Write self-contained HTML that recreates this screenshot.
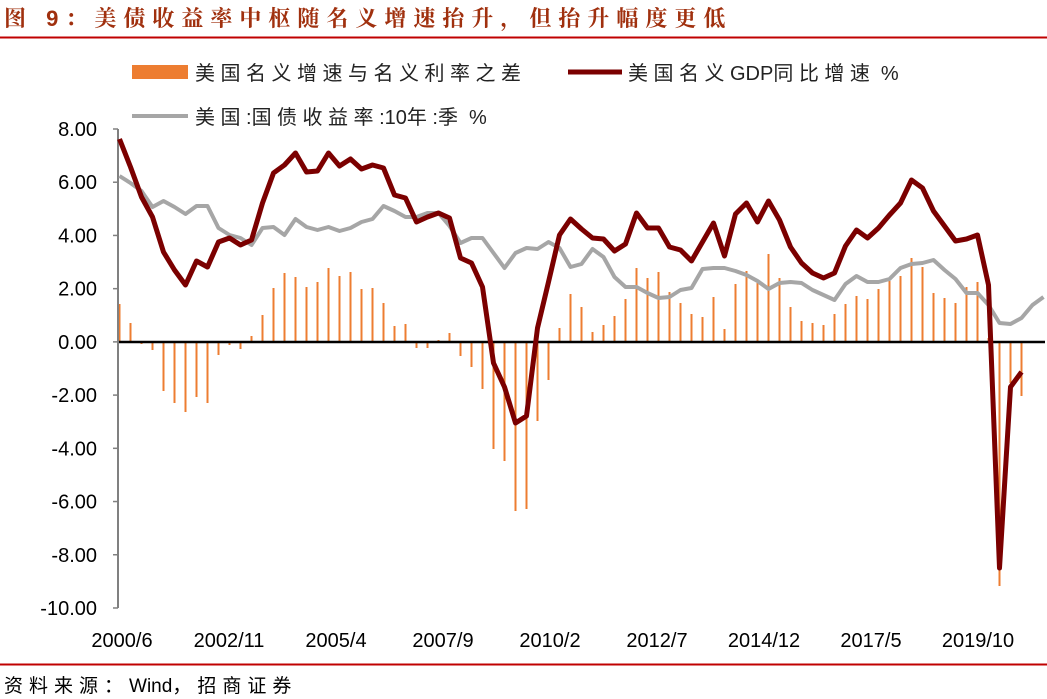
<!DOCTYPE html>
<html><head><meta charset="utf-8"><style>
html,body{margin:0;padding:0;background:#fff;}
svg{display:block;font-family:"Liberation Sans","Noto Sans CJK SC",sans-serif;}
.s{letter-spacing:5.5px}
</style></head><body>
<svg id="c" width="1047" height="699" viewBox="0 0 1047 699">
<text x="4" y="26" font-size="22" font-weight="bold" fill="#A0300E" letter-spacing="7" font-family="'Liberation Sans','Noto Serif CJK SC',serif">图 9：美债收益率中枢随名义增速抬升，但抬升幅度更低</text>
<line x1="0" y1="37.5" x2="1047" y2="37.5" stroke="#C00000" stroke-width="2"/>
<line x1="0" y1="664.5" x2="1047" y2="664.5" stroke="#C00000" stroke-width="2"/>
<text x="4" y="692" font-size="19" fill="#000"><tspan letter-spacing="6">资料来源：</tspan>Wind<tspan letter-spacing="6">，招商证券</tspan></text>
<rect x="132" y="65" width="56" height="14" fill="#ED7D31"/>
<text x="195" y="80" font-size="20" fill="#222" class="s">美国名义增速与名义利率之差</text>
<line x1="568" y1="72" x2="622" y2="72" stroke="#7B0000" stroke-width="5"/>
<text x="628" y="80" font-size="20" fill="#222"><tspan class="s">美国名义</tspan>GDP<tspan class="s">同比增速</tspan> %</text>
<line x1="132" y1="116" x2="188" y2="116" stroke="#A6A6A6" stroke-width="4"/>
<text x="195" y="124" font-size="20" fill="#222"><tspan class="s">美国</tspan>:<tspan class="s">国债收益率</tspan>:10<tspan class="s">年</tspan>:<tspan class="s">季</tspan> %</text>
<g id="axis" font-size="20" fill="#000" text-anchor="end"></g>
<g id="bars" stroke="#ED7D31" stroke-width="2"></g>
<line x1="118" y1="342" x2="1045" y2="342" stroke="#000" stroke-width="2.5"/>
<line x1="118" y1="129" x2="118" y2="608" stroke="#808080" stroke-width="2"/>
<polyline id="gray" fill="none" stroke="#A6A6A6" stroke-width="4" stroke-linejoin="round"/>
<polyline id="red" fill="none" stroke="#7B0000" stroke-width="5" stroke-linejoin="round"/>
</svg>
<script>
var bars=[304,323,344,350,391,403,412,397,403,355,345,349,336,315,288,273,277,287,282,268,276,272,289,288,303,326,324,348,348,340,333,356,367,389,449,461,511,509,421,380,328,294,307,332,325,316,299,268,278,272,292,303,314,317,297,329,284,271,283,254,278,307,321,323,325,314,304,296,299,289,281,276,258,267,293,298,303,287,282,338,586,383,396];
var red=[139,167,197,217,252,270,285,261,267,242,238,245,240,203,173,165,153,172,171,153,166,159,169,165,168,195,198,222,217,213,218,258,263,287,363,387,423,416,328,282,235,219,229,238,239,251,244,213,228,228,247,250,261,242,223,256,214,203,222,201,220,247,263,273,278,273,246,230,238,228,215,203,180,188,211,226,241,239,235,285,568,387,372];
var gray=[176,183,191,207,201,207,214,206,206,228,235,238,245,228,227,235,219,227,230,227,231,228,222,219,206,211,217,217,213,213,226,243,238,238,253,268,253,248,249,242,248,267,264,249,257,277,287,287,293,298,297,290,288,269,268,268,271,275,281,289,283,282,283,290,295,300,284,276,282,282,279,268,264,263,260,270,279,293,293,305,323,324,318,305,297];
var X=function(i){return 119.5+11.0*i;};
var ns="http://www.w3.org/2000/svg";
var g=document.getElementById('bars');
bars.forEach(function(y,i){var l=document.createElementNS(ns,'line');l.setAttribute('x1',X(i));l.setAttribute('x2',X(i));l.setAttribute('y1',342);l.setAttribute('y2',y);g.appendChild(l);});
document.getElementById('red').setAttribute('points',red.map(function(y,i){return X(i)+','+y;}).join(' '));
document.getElementById('gray').setAttribute('points',gray.map(function(y,i){return X(i)+','+y;}).join(' '));
var a=document.getElementById('axis');
var labs=["8.00","6.00","4.00","2.00","0.00","-2.00","-4.00","-6.00","-8.00","-10.00"];
labs.forEach(function(t,k){var y=129+k*53.22;var tx=document.createElementNS(ns,'text');tx.setAttribute('x',97);tx.setAttribute('y',y+7);tx.textContent=t;a.appendChild(tx);
var tk=document.createElementNS(ns,'line');tk.setAttribute('x1',113);tk.setAttribute('x2',118);tk.setAttribute('y1',y);tk.setAttribute('y2',y);tk.setAttribute('stroke','#808080');tk.setAttribute('stroke-width',1.5);a.appendChild(tk);});
var xl=["2000/6","2002/11","2005/4","2007/9","2010/2","2012/7","2014/12","2017/5","2019/10"];
xl.forEach(function(t,k){var tx=document.createElementNS(ns,'text');tx.setAttribute('x',122+k*107);tx.setAttribute('y',647);tx.setAttribute('text-anchor','middle');tx.setAttribute('font-size','20');tx.textContent=t;a.appendChild(tx);});
</script>
</body></html>
